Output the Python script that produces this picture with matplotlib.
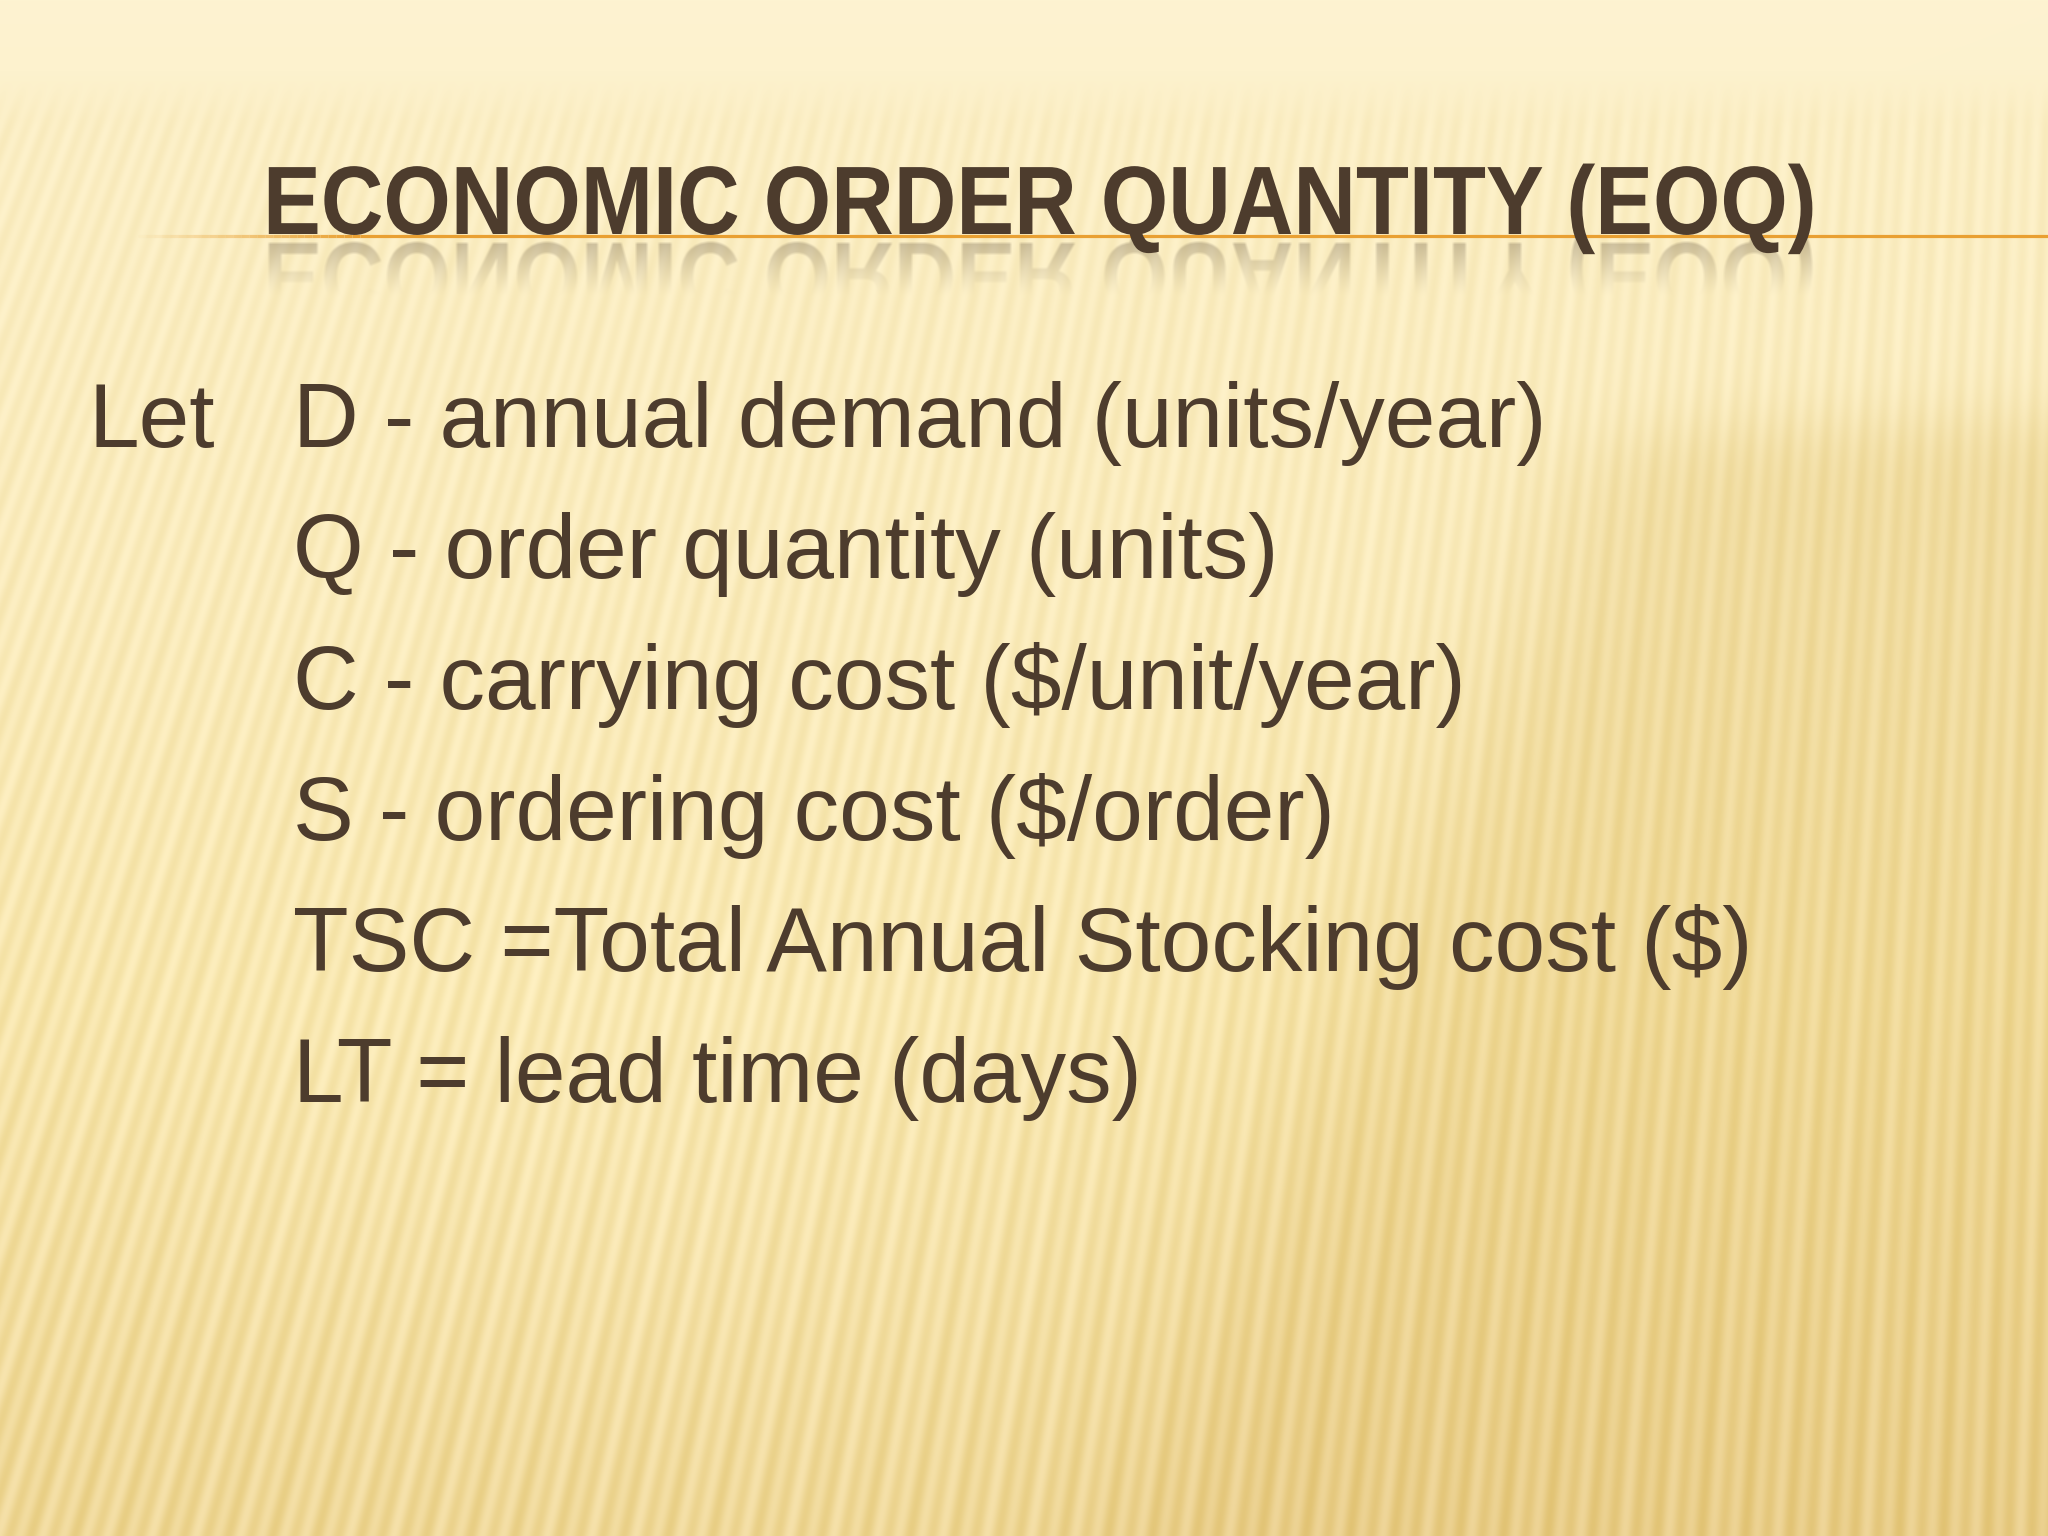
import numpy as np
import matplotlib
matplotlib.use('Agg')
import matplotlib.pyplot as plt
from matplotlib import font_manager
from matplotlib.patheffects import AbstractPathEffect
from matplotlib.transforms import Affine2D
from matplotlib.collections import LineCollection

# --- Conteúdo do slide ---
titulo = 'ECONOMIC ORDER QUANTITY (EOQ)'
rotulo = 'Let'
linhas = [
    'D - annual demand (units/year)',
    'Q - order quantity (units)',
    'C - carrying cost ($/unit/year)',
    'S - ordering cost ($/order)',
    'TSC =Total Annual Stocking cost ($)',
    'LT = lead time (days)',
]

# --- Configurações ---
W, H = 2048, 1536
DPI = 100
COR_TEXTO = '#4d3c2d'
COR_LINHA = '#e9a032'

nomes = {f.name for f in font_manager.fontManager.ttflist}
fonte_titulo = 'Liberation Sans Narrow' if 'Liberation Sans Narrow' in nomes else 'Liberation Sans'
fonte_corpo = 'Liberation Sans'


class Estreitar(AbstractPathEffect):
    """Comprime o texto na horizontal em torno de x0 (pixels)."""
    def __init__(self, sx, x0):
        super().__init__()
        self.sx = sx
        self.x0 = x0

    def draw_path(self, renderer, gc, tpath, affine, rgbFace=None):
        t = affine + Affine2D().translate(-self.x0, 0).scale(self.sx, 1).translate(self.x0, 0)
        renderer.draw_path(gc, tpath, t, rgbFace)


fig = plt.figure(figsize=(W / DPI, H / DPI), dpi=DPI)
fig.patch.set_alpha(0)
ax = fig.add_axes([0, 0, 1, 1])
ax.set_xlim(0, W)
ax.set_ylim(H, 0)
ax.axis('off')

# --- Título (primeiro sozinho, para medir e gerar o reflexo) ---
x_tit, y_tit, larg_tit = 263, 234, 1554
t_tit = ax.text(x_tit, y_tit, titulo, fontsize=70, family=fonte_titulo, weight='bold',
                color=COR_TEXTO, ha='left', va='baseline', zorder=4, parse_math=False)
fig.canvas.draw()
larg = t_tit.get_window_extent().width
sx = larg_tit / larg
if abs(sx - 1) > 0.01:
    t_tit.set_path_effects([Estreitar(sx, x_tit)])
fig.canvas.draw()
alfa_tit = np.asarray(fig.canvas.buffer_rgba())[:, :, 3].astype(float) / 255.0

# --- Fundo ---
yy, xx = np.mgrid[0:H, 0:W].astype(float)
paradas_y = [0, 70, 120, 600, 1000, 1536]
paradas_cor = [(253, 243, 209), (253, 242, 206), (251, 238, 196),
               (250, 235, 187), (247, 229, 171), (238, 214, 148)]
fundo = np.zeros((H, W, 3))
for c in range(3):
    fundo[:, :, c] = np.interp(yy, paradas_y, [p[c] for p in paradas_cor])

# região mais escura à direita (borda esquerda inclinada, canto arredondado)
topo_y = 432 - (xx - 1600) * 0.03
borda_x = 1610 - np.clip(yy - 430, 0, None) * 0.45
d1 = (xx - borda_x) / 45.0
d2 = (yy - topo_y) / 20.0
mascara = 1 / (1 + np.exp(-d1)) * 1 / (1 + np.exp(-d2))
dif = np.stack([np.interp(yy, [450, 1536], [10, 6]),
                np.interp(yy, [450, 1536], [16, 10]),
                np.interp(yy, [450, 1536], [30, 14])], axis=-1)
fundo -= mascara[..., None] * dif

# brilho suave no centro-esquerda
brilho = np.exp(-(((xx - 650) / 520) ** 2 + ((yy - 1150) / 330) ** 2))
fundo += brilho[..., None] * np.array([3, 5, 10])

# listras em perspectiva (convergem para um ponto acima, à direita)
px, py = 2300.0, -6000.0
u = (xx - px) / (yy - py) * (1200 - py)
listra = 0.75 * np.sin(2 * np.pi * u / 21.0) + 0.25 * np.sin(2 * np.pi * u / 47.0)
amp = np.clip((yy - 80) / 50.0, 0, 1) * (4.0 + 7.0 * yy / H)
fundo += (amp * listra)[..., None] * np.array([0.6, 0.85, 1.7])

# reflexo do título abaixo da linha
ym = 238
alcance = 58
refl = np.zeros((H, W))
for r in range(ym, ym + alcance):
    d = r - ym
    refl[r] = alfa_tit[2 * ym - r] * 0.38 * (1 - d / alcance) ** 1.3
refl = (refl + np.roll(refl, 1, 0) + np.roll(refl, -1, 0)) / 3
refl = (refl + np.roll(refl, 1, 1) + np.roll(refl, -1, 1)) / 3
cor_refl = np.array([110, 95, 72])
fundo = fundo * (1 - refl[..., None]) + cor_refl * refl[..., None]

fundo = np.clip(fundo, 0, 255).astype(np.uint8)
fig.patch.set_alpha(1)
fig.patch.set_facecolor('#fdf2cf')
ax.imshow(fundo, extent=(0, W, H, 0), aspect='auto', zorder=0, interpolation='bilinear')

# --- Linha laranja sob o título ---
xs = np.linspace(130, 360, 30)
segs = [[(xs[i], 236), (xs[i + 1], 236)] for i in range(len(xs) - 1)]
alfas = np.linspace(0, 1, len(segs))
cores = [matplotlib.colors.to_rgba(COR_LINHA, a) for a in alfas]
ax.add_collection(LineCollection(segs, colors=cores, linewidths=2.3, zorder=2))
ax.plot([360, W], [236, 236], color=COR_LINHA, lw=2.3, zorder=2, solid_capstyle='butt')

# --- Corpo do texto ---
x_let, x_corpo = 89, 293
base_y = 447
passo = 131
ax.text(x_let, base_y, rotulo, fontsize=65.5, family=fonte_corpo, color=COR_TEXTO,
        ha='left', va='baseline', zorder=4)
for i, linha in enumerate(linhas):
    ax.text(x_corpo, base_y + i * passo, linha, fontsize=65.5, family=fonte_corpo,
            color=COR_TEXTO, ha='left', va='baseline', zorder=4, parse_math=False)

fig.savefig('out.png', dpi=DPI)
plt.close(fig)
